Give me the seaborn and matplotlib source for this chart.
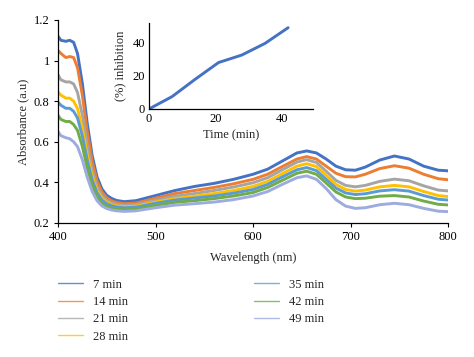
import matplotlib
matplotlib.use("Agg")
import matplotlib.pyplot as plt
from matplotlib.lines import Line2D
import pandas as pd
import seaborn as sns

wavelength = [400, 403, 408, 412, 416, 420, 425, 430, 435, 440, 445, 450, 455, 460, 468,
              480, 500, 520, 540, 560, 580, 600, 615, 630, 645, 655, 665, 675, 685, 695,
              705, 715, 730, 745, 760, 775, 790, 800]

abs_7 = [1.12, 1.10, 1.095, 1.10, 1.09, 1.035, 0.886, 0.690, 0.533, 0.427, 0.368, 0.336, 0.321, 0.311, 0.305,
         0.31, 0.335, 0.36, 0.38, 0.395, 0.415, 0.44, 0.465, 0.505, 0.545, 0.555, 0.545, 0.515, 0.48, 0.462,
         0.46, 0.475, 0.51, 0.53, 0.515, 0.48, 0.46, 0.457]
abs_14 = [1.05, 1.035, 1.015, 1.02, 1.015, 0.965, 0.828, 0.648, 0.504, 0.407, 0.353, 0.324, 0.309, 0.301, 0.295,
          0.298, 0.322, 0.345, 0.36, 0.375, 0.393, 0.415, 0.44, 0.478, 0.515, 0.527, 0.515, 0.48, 0.445, 0.428,
          0.427, 0.44, 0.468, 0.482, 0.47, 0.44, 0.418, 0.413]
abs_21 = [0.93, 0.905, 0.895, 0.895, 0.885, 0.843, 0.730, 0.580, 0.460, 0.380, 0.335, 0.311, 0.299, 0.292, 0.287,
          0.29, 0.312, 0.332, 0.345, 0.36, 0.377, 0.398, 0.423, 0.462, 0.5, 0.512, 0.498, 0.455, 0.41, 0.385,
          0.378, 0.385, 0.405, 0.416, 0.408, 0.383, 0.362, 0.358]
abs_28 = [0.845, 0.83, 0.815, 0.815, 0.80, 0.764, 0.665, 0.535, 0.431, 0.361, 0.322, 0.301, 0.290, 0.284, 0.280,
          0.283, 0.303, 0.32, 0.332, 0.345, 0.36, 0.38, 0.405, 0.443, 0.48, 0.492, 0.478, 0.435, 0.39, 0.365,
          0.357, 0.362, 0.378, 0.385, 0.378, 0.355, 0.335, 0.33]
abs_35 = [0.795, 0.78, 0.765, 0.765, 0.75, 0.717, 0.627, 0.508, 0.413, 0.349, 0.313, 0.294, 0.285, 0.279, 0.275,
          0.278, 0.297, 0.313, 0.323, 0.333, 0.347, 0.365, 0.39, 0.427, 0.462, 0.473, 0.458, 0.415, 0.372, 0.348,
          0.34, 0.344, 0.358, 0.364, 0.357, 0.335, 0.317, 0.313]
abs_42 = [0.73, 0.71, 0.70, 0.70, 0.685, 0.656, 0.576, 0.471, 0.387, 0.330, 0.299, 0.282, 0.273, 0.268, 0.265,
          0.268, 0.287, 0.302, 0.31, 0.32, 0.333, 0.35, 0.375, 0.41, 0.445, 0.455, 0.44, 0.397, 0.353, 0.328,
          0.32, 0.322, 0.332, 0.335, 0.328, 0.308, 0.292, 0.289]
abs_49 = [0.65, 0.63, 0.62, 0.615, 0.60, 0.576, 0.511, 0.425, 0.356, 0.310, 0.284, 0.271, 0.264, 0.260, 0.257,
          0.26, 0.275, 0.288, 0.295, 0.303, 0.315, 0.333, 0.355, 0.39, 0.423, 0.432, 0.415, 0.37, 0.315, 0.283,
          0.272, 0.275, 0.29, 0.297, 0.29, 0.272, 0.258, 0.256]

labels = ["7 min", "14 min", "21 min", "28 min", "35 min", "42 min", "49 min"]
colors = ["#4472C4", "#ED7D31", "#A5A5A5", "#FFC000", "#5B9BD5", "#70AD47", "#9DABE0"]

# inset data
time_min = [0, 7, 14, 21, 28, 35, 42]
inhibition = [0, 7.5, 18, 28, 32.5, 39.5, 49]

series = [abs_7, abs_14, abs_21, abs_28, abs_35, abs_42, abs_49]
rows = []
for lab, vals in zip(labels, series):
    for w, v in zip(wavelength, vals):
        rows.append({"wavelength": w, "absorbance": v, "time": lab})
df = pd.DataFrame(rows)

sns.set_style("white")
plt.rcParams["font.family"] = ["Liberation Serif", "DejaVu Serif"]

fig = plt.figure(figsize=(4.74, 3.57), dpi=100)
ax = fig.add_axes([0.1224, 0.3754, 0.8228, 0.5686])
sns.lineplot(data=df, x="wavelength", y="absorbance", hue="time", hue_order=labels,
             palette=colors, linewidth=2.1, legend=False, ax=ax)
ax.set_xlim(400, 800)
ax.set_ylim(0.2, 1.2)
ax.set_xticks([400, 500, 600, 700, 800])
ax.set_yticks([0.2, 0.4, 0.6, 0.8, 1.0, 1.2])
ax.set_yticklabels(["0.2", "0.4", "0.6", "0.8", "1", "1.2"])
ax.set_xlabel("Wavelength (nm)", fontsize=9, labelpad=6)
ax.set_ylabel("Absorbance (a.u)", fontsize=9, labelpad=3)
for s in ["top", "right"]:
    ax.spines[s].set_visible(False)
for s in ["left", "bottom"]:
    ax.spines[s].set_color("black")
    ax.spines[s].set_linewidth(0.9)
ax.tick_params(axis="both", labelsize=9, direction="out", length=3, width=0.8,
               colors="black", pad=3, left=True, bottom=True)

# inset
axin = fig.add_axes([0.3143, 0.6947, 0.346, 0.2417])
sns.lineplot(x=time_min, y=inhibition, color="#4472C4", linewidth=2.1, ax=axin)
axin.set_xlim(0, 49.5)
axin.set_ylim(0, 52)
axin.set_xticks([0, 20, 40])
axin.set_yticks([0, 20, 40])
axin.set_xlabel("Time (min)", fontsize=9, labelpad=3)
axin.set_ylabel("(%) inhibition", fontsize=9, labelpad=4)
axin.patch.set_alpha(0)
for s in ["top", "right"]:
    axin.spines[s].set_visible(False)
for s in ["left", "bottom"]:
    axin.spines[s].set_color("black")
    axin.spines[s].set_linewidth(0.9)
axin.tick_params(axis="both", labelsize=9, length=0, pad=3, colors="black")

handles = [Line2D([], [], color=c, lw=1.0, alpha=0.8) for c in colors]
fig.legend(handles, labels, ncol=2, loc="upper left", bbox_to_anchor=(0.122, 0.219),
           frameon=False, fontsize=9, handlelength=2.0, handletextpad=0.8,
           columnspacing=10.1, labelspacing=0.42, borderaxespad=0, borderpad=0)

fig.savefig("out.png", dpi=100)
